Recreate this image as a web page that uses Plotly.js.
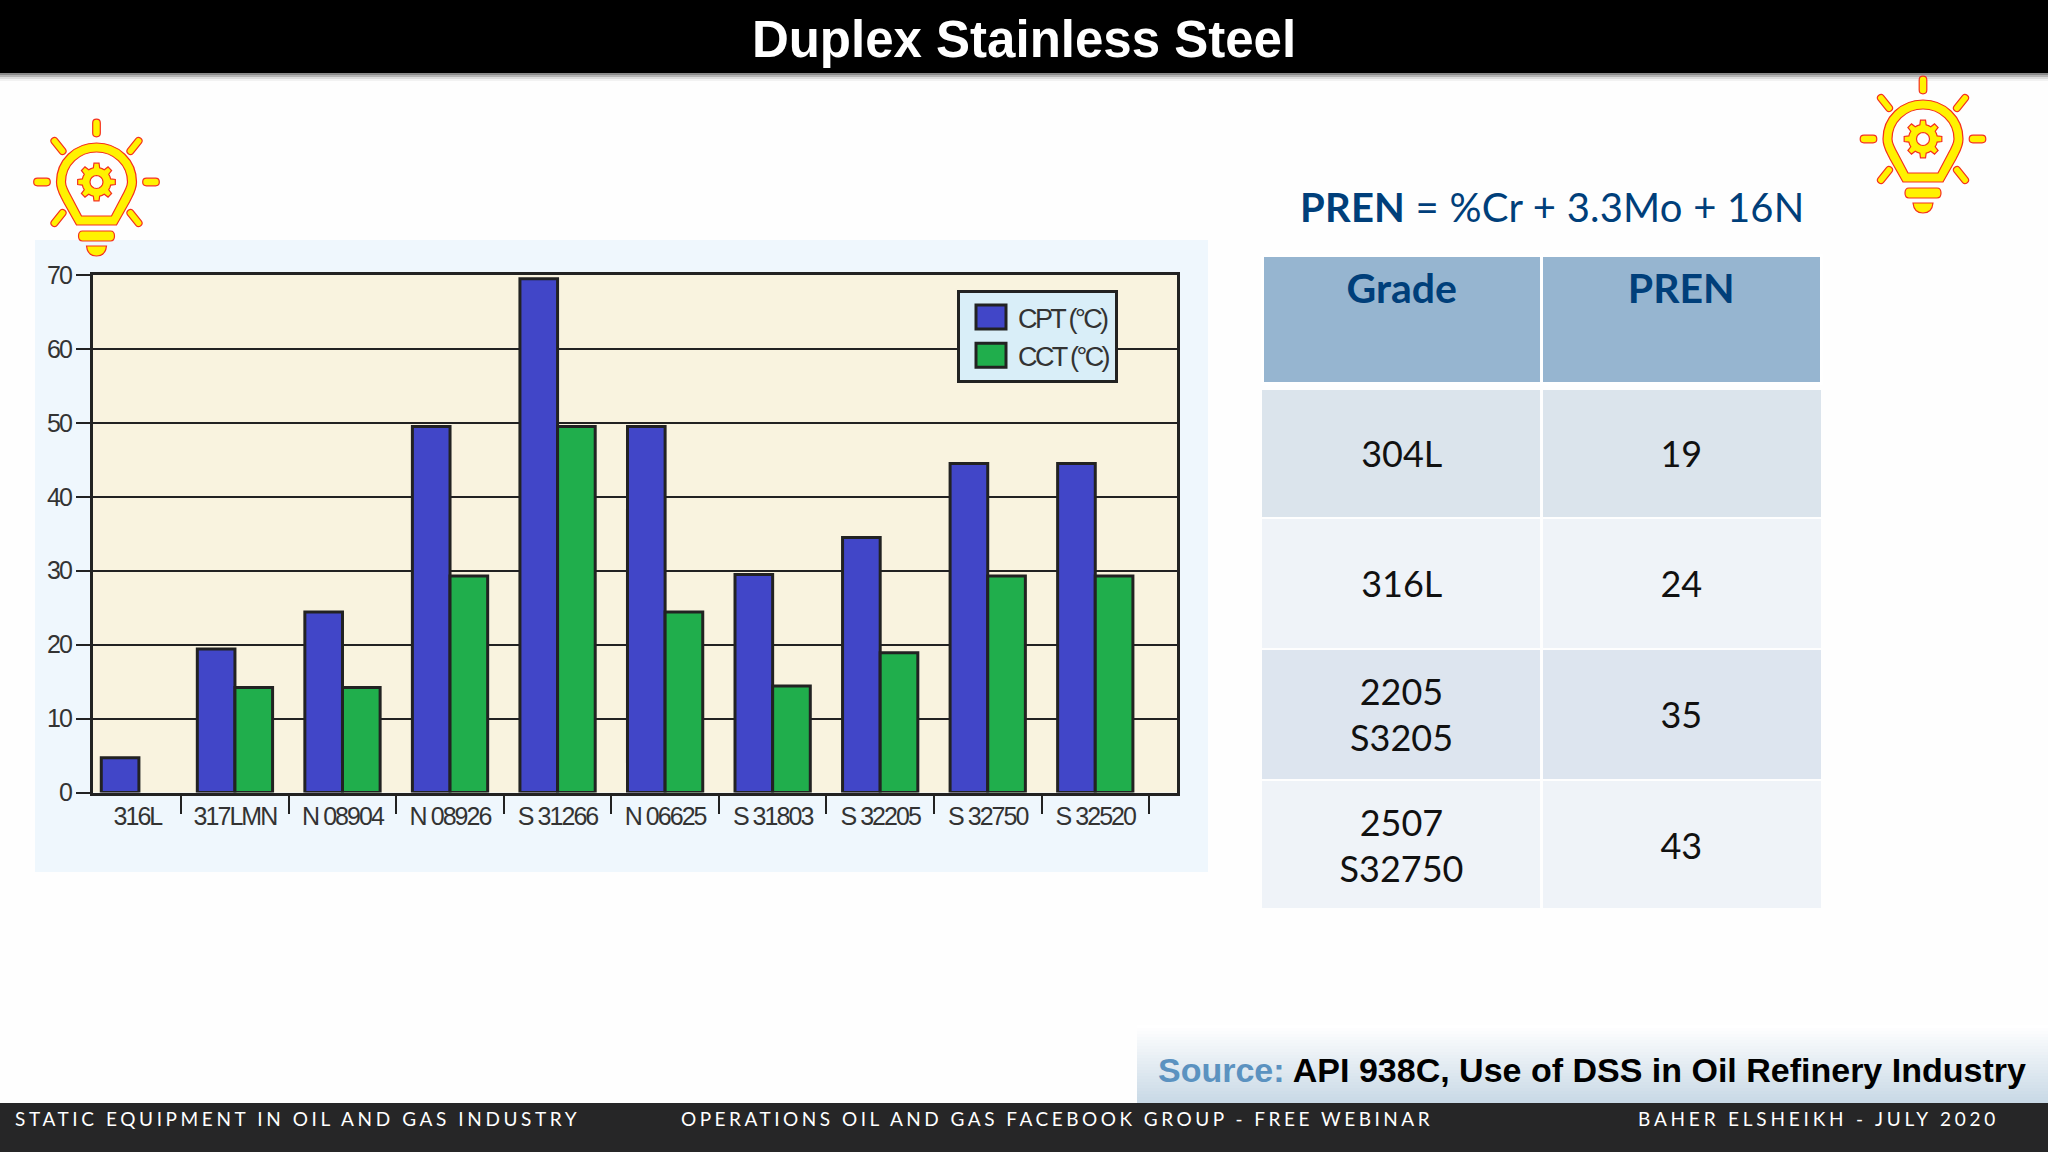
<!DOCTYPE html>
<html><head><meta charset="utf-8">
<script src="https://cdn.plot.ly/plotly-3.0.1.min.js"></script>
<style>
html,body{margin:0;padding:0;background:#fefefe;}
.legendpoints path{transform:translate(31px,0) scale(2.5,2);vector-effect:non-scaling-stroke;}
.xtick text,.ytick text{letter-spacing:-1.95px;}
.legendtext{letter-spacing:-2.6px;}
</style></head><body><div id="chart" style="width:2048px;height:1152px"></div>
<script>
const categories = ['316L','317LMN','N 08904','N 08926','S 31266','N 06625','S 31803','S 32205','S 32750','S 32520'];
const cpt = [4.7,19.4,24.4,49.5,69.5,49.5,29.5,34.5,44.5,44.5];
const cct = [null,14.2,14.2,29.3,49.5,24.4,14.4,18.9,29.3,29.3];
const yTicks = [0,10,20,30,40,50,60,70];
const tableHead = ['Grade','PREN'];
const gradesOneLine = ['304L','316L','',''];
const pren = ['19','24','35','43'];
const gradesFirstLine = ['2205','2507'];
const gradesSecondLine = ['S3205','S32750'];
const rowFills = ['#dbe4ec','#eff3f8','#dde5ef','#eff3f8'];

const W=2048,H=1152;
const px=v=>v/W, py=v=>1-v/H;
const rect=(x0,y0,x1,y1,fill)=>({type:'rect',xref:'paper',yref:'paper',x0:px(x0),x1:px(x1),y0:py(y1),y1:py(y0),fillcolor:fill,line:{width:0},layer:'below'});
const note=(text,x,y,size,color,family,anchor)=>({text,xref:'paper',yref:'paper',x:px(x),y:py(y),xanchor:anchor||'center',yanchor:'middle',showarrow:false,font:{size,color,family}});

const flip=p=>p.replace(/(-?[\d.]+) (-?[\d.]+)/g,(m,a,b)=>a+' '+(-b));
const capsule=(ax,ay,bx,by,r)=>{
  const L=Math.hypot(bx-ax,by-ay),dx=(bx-ax)/L*r,dy=(by-ay)/L*r,nx=-dy,ny=dx;
  const f=(a,b)=>a.toFixed(2)+' '+b.toFixed(2);
  return `M${f(ax+nx,ay+ny)} L${f(bx+nx,by+ny)} Q${f(bx+nx+dx,by+ny+dy)} ${f(bx+dx,by+dy)} Q${f(bx-nx+dx,by-ny+dy)} ${f(bx-nx,by-ny)} L${f(ax-nx,ay-ny)} Q${f(ax-nx-dx,ay-ny-dy)} ${f(ax-dx,ay-dy)} Q${f(ax+nx-dx,ay+ny-dy)} ${f(ax+nx,ay+ny)} Z`;
};
const gearPath=()=>{
  let d='';const n=8,ro=19,ri=14.5;
  for(let i=0;i<n;i++){
    const a=i/n*2*Math.PI,s=2*Math.PI/n;
    [[ri,-0.5*s],[ri,-0.28*s],[ro,-0.17*s],[ro,0.17*s],[ri,0.28*s]].forEach((q,j)=>{
      d+=((i||j)?'L':'M')+(q[0]*Math.sin(a+q[1])).toFixed(2)+' '+(-q[0]*Math.cos(a+q[1])).toFixed(2)+' ';
    });
  }
  d+='Z ';
  for(let i=0;i<=16;i++){const a=i/16*2*Math.PI;d+=(i?'L':'M')+(6.5*Math.sin(a)).toFixed(2)+' '+(-6.5*Math.cos(a)).toFixed(2)+' ';}
  return d+'Z';
};
const bulbParts=[
 'M-20 43 L-33 20 C-37 12 -40 8 -40 0 C-40 -22 -22 -39 0 -39 C22 -39 40 -22 40 0 C40 8 37 12 33 20 L20 43 Z M-15 34 L-25 15 C-29 8 -31 4 -31 0 C-31 -17 -17 -30 0 -30 C17 -30 31 -17 31 0 C31 4 29 8 25 15 L15 34 Z',
 'M-14 49 L14 49 Q18 49 18 54 Q18 59 14 59 L-14 59 Q-18 59 -18 54 Q-18 49 -14 49 Z',
 'M-10 64 L10 64 Q9 74 0 74 Q-9 74 -10 64 Z',
 gearPath(),
 capsule(0,-59,0,-49,3.8),
 capsule(-59,0,-50,0,3.8),
 capsule(50,0,59,0,3.8),
 capsule(-42,-41,-34,-31,3.5),
 capsule(42,-41,34,-31,3.5),
 capsule(-42,41,-34,31,3.5),
 capsule(42,41,34,31,3.5)
];
const bulb=(cx,cy)=>bulbParts.map(p=>({type:'path',xref:'paper',yref:'paper',xsizemode:'pixel',ysizemode:'pixel',xanchor:px(cx),yanchor:py(cy),path:flip(p),fillcolor:'#fff200',line:{color:'#f5301e',width:1.2},layer:'below'}));

const shapes=[];
shapes.push(rect(35,240,1208,872,'#eff7fd'));
shapes.push(rect(93,275,1177,792.5,'#f9f3df'));
shapes.push(rect(0,0,W,73,'#000000'));
[['#8a8a8a',73,75],['#b4b4b4',75,77],['#dcdcdc',77,79],['#f2f2f2',79,81]].forEach(s=>shapes.push(rect(0,s[1],W,s[2],s[0])));
for(let i=0;i<26;i++){
  const t=i/25;
  const c=[255-54*t,255-38*t,255-25*t].map(Math.round);
  shapes.push(rect(1137,1025+i*3,W,1025+(i+1)*3,`rgb(${c})`));
}
shapes.push(rect(0,1103,W,H,'#262627'));
rowFills.forEach((f,i)=>{
  const y=[389,518,649,780,909];
  shapes.push(rect(1262,y[i]+1,1540,y[i+1]-1,f));
  shapes.push(rect(1543,y[i]+1,1821,y[i+1]-1,f));
});
bulb(96.5,182).forEach(s=>shapes.push(s));
bulb(1923,139).forEach(s=>shapes.push(s));

const spaced=(t,ls)=>`<span style="letter-spacing:${ls}px">${t}</span>`;
const annotations=[
 note(spaced('STATIC EQUIPMENT IN OIL AND GAS INDUSTRY',3.6),13,1118,19,'#ffffff','Lato','left'),
 note(spaced('OPERATIONS OIL AND GAS FACEBOOK GROUP - FREE WEBINAR',3.5),679,1118,19,'#ffffff','Lato','left'),
 note(spaced('BAHER ELSHEIKH - JULY 2020',3.8),1636,1118,19,'#ffffff','Lato','left'),
 note('<b><span style="fill:#5b92c0">Source:</span> API 938C, Use of DSS in Oil Refinery Industry</b>',1156,1070,34,'#000000','Liberation Sans','left'),
 note(spaced('<b>PREN</b> = %Cr + 3.3Mo + 16N',0.2),1552,207,40,'#003f7a','Lato')
];

const clear='rgba(0,0,0,0)';
const noHead={values:[],height:0,fill:{color:clear},line:{width:0,color:clear}};
const bodyFont={size:36,color:'#111111',family:'Lato'};
const col1=[px(1262),px(1541)];
const bodyCells=(values,height)=>({values,height,fill:{color:clear},line:{width:0,color:clear},align:'center',font:bodyFont});
const data=[
 {type:'bar',name:'CPT (°C)',x:categories,y:cpt,width:0.35,offset:categories.map((c,i)=>i===0?-0.243:-0.35),marker:{color:'#4146c8',line:{color:'#222222',width:3}},hoverinfo:'skip'},
 {type:'bar',name:'CCT (°C)',x:categories,y:cct,width:0.35,offset:0,marker:{color:'#20ae4c',line:{color:'#222222',width:3}},hoverinfo:'skip'},
 {type:'table',domain:{x:[px(1262),px(1821)],y:[py(390),py(255)]},columnwidth:[1,1],
  header:{values:tableHead.map(t=>'<b>'+t+'</b>'),height:128,fill:{color:'#96b5d0'},line:{color:'#ffffff',width:3},align:'center',font:{size:41,color:'#003f7a',family:'Lato'}},
  cells:{values:[]}},
 {type:'table',domain:{x:[px(1262),px(1821)],y:[py(1000),py(415.5)]},columnwidth:[1,1],header:noHead,cells:bodyCells([gradesOneLine,pren],130.7)},
 {type:'table',domain:{x:col1,y:[py(1000),py(653.5)]},header:noHead,cells:bodyCells([gradesFirstLine],131)},
 {type:'table',domain:{x:col1,y:[py(1000),py(699.5)]},header:noHead,cells:bodyCells([gradesSecondLine],131)}
];
const tickFont={size:25,color:'#333333',family:'Liberation Sans'};
const layout={
 width:W,height:H,margin:{l:0,r:0,t:0,b:0,pad:0},paper_bgcolor:'#fefefe',plot_bgcolor:'#f9f3df',
 title:{text:'<b>Duplex Stainless Steel</b>',x:0.5,xref:'paper',xanchor:'center',y:py(39),yref:'paper',yanchor:'middle',font:{size:51,color:'#ffffff',family:'Liberation Sans'}},
 barmode:'group',bargap:0.3,
 xaxis:{domain:[px(93),px(1177)],range:[-0.32,9.76],type:'category',showgrid:false,showline:true,linecolor:'#222222',linewidth:3,mirror:true,ticks:'outside',tickson:'boundaries',ticklen:18,tickwidth:2,tickcolor:'#222222',ticklabelstandoff:-1,tickfont:tickFont,fixedrange:true},
 yaxis:{domain:[py(792.5),py(275)],range:[0,70],tickvals:yTicks,showgrid:true,gridcolor:'#222222',gridwidth:2,zeroline:false,showline:true,linecolor:'#222222',linewidth:3,mirror:true,ticks:'outside',ticklen:14,tickwidth:2,tickcolor:'#222222',tickfont:tickFont,fixedrange:true},
 showlegend:true,
 legend:{x:px(957),y:py(290),xanchor:'left',yanchor:'top',bgcolor:'#d9eef8',bordercolor:'#222222',borderwidth:3,font:{size:27,color:'#333333',family:'Liberation Sans'},itemwidth:48,entrywidth:100,entrywidthmode:'pixels',traceorder:'normal'},
 shapes,annotations
};
Plotly.newPlot('chart',data,layout,{displayModeBar:false,staticPlot:true}).then(()=>{
  const first=document.querySelector('.xtick text');
  if(first) first.setAttribute('x',+first.getAttribute('x')+10);
});
</script></body></html>
